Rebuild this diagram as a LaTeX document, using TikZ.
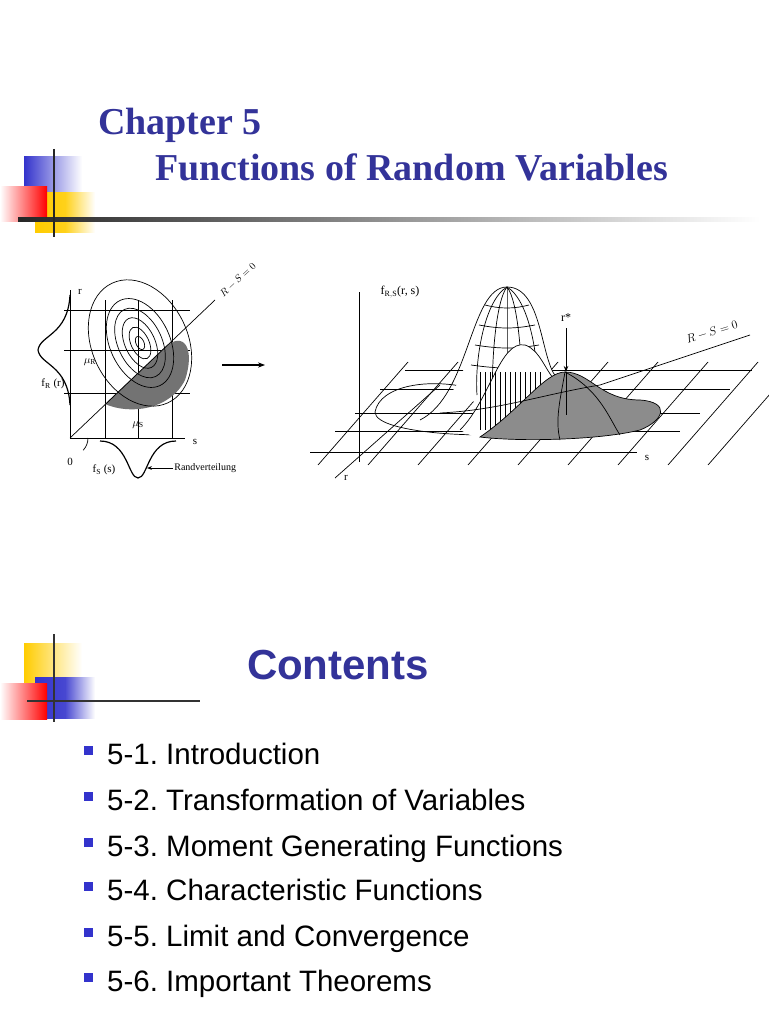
\documentclass[tikz,border=0pt]{standalone}
\usepackage{fontspec}
\setmainfont{Liberation Serif}
\setsansfont{Liberation Sans}
\usetikzlibrary{arrows.meta}
\definecolor{ttl}{HTML}{333399}
\definecolor{dblue}{HTML}{3333CC}
\definecolor{dyel}{HTML}{FFCC00}
\definecolor{dred}{HTML}{FF0000}
\frenchspacing
\begin{document}
\begin{tikzpicture}[x=1pt,y=-1pt,
  thin line/.style={line width=0.7pt},
  bul/.style={anchor=base west,font=\sffamily\fontsize{29.5}{29.5}\selectfont,text=black},
  lab/.style={font=\fontsize{11}{11}\selectfont,inner sep=1pt}]
\useasboundingbox (0,0) rectangle (768,1024);
\fill[white] (0,0) rectangle (768,1024);
% deco 1
\shade[left color=dblue,right color=white] (24,157) rectangle (82,193);
\shade[left color=dyel,right color=white,middle color=dyel!90] (35,193) rectangle (95,233);
\shade[right color=dred,left color=white] (0,187) rectangle (47,222);
\shade[left color=black!85,right color=white] (18,218) rectangle (760,222);
\draw[line width=2.5pt,black!85] (54,149) -- (54,237);
% deco 2
\shade[left color=dyel,right color=white] (24,643) rectangle (82,683);
\shade[left color=dblue,right color=white,middle color=dblue!90] (35,677) rectangle (95,718);
\shade[right color=dred,left color=white] (0,683) rectangle (47,719);
\draw[line width=1.5pt,black!80] (27,701) -- (200,701);
\draw[line width=1.5pt,black!80] (54,634) -- (54,722);
% titles
\node[anchor=base west,text=ttl,font=\bfseries\fontsize{38}{38}\selectfont,inner sep=0] (t1) at (98,135) {Chapter 5};
\node[anchor=base west,text=ttl,font=\bfseries\fontsize{38}{38}\selectfont,inner sep=0] (t2) at (155,181) {Functions of Random Variables};
\node[anchor=base,text=ttl,font=\sffamily\bfseries\fontsize{42}{42}\selectfont,inner sep=0] (c) at (338,679) {Contents};
% bullets
\foreach \y/\t [count=\i] in {764/5-1. Introduction,810/5-2. Transformation of Variables,856/5-3. Moment Generating Functions,900/5-4. Characteristic Functions,946/5-5. Limit and Convergence,991/5-6. Important Theorems}{
  \fill[dblue] (84,\y-18) rectangle (93,\y-9);
  \node[bul,inner sep=0] (b\i) at (107,\y) {\t};
}
% ---------- left diagram
\begin{scope}[thin line]
\coordinate (o) at (70,438);
\draw (70,290) -- (o) -- (185,438);
\node[lab] (ls) at (195,442) {s};
\node[lab] (lr) at (80,292) {r};
\node[lab] (l0) at (70,462) {0};
\foreach \x in {105,138,172} \draw (\x,300) -- (\x,438);
\foreach \y in {310,350,393} \draw (64,\y) -- (190,\y);
% shaded
\fill[black!55] (105,404) -- (165,347) .. controls (185,330) and (195,350) .. (185,380) .. controls (170,410) and (130,415) .. (105,404) -- cycle;
\foreach \a/\b in {48/66,30/47,22/37,15/27,9/17,4/7}
  \draw[rotate around={25:(140,343)}] (140,343) ellipse ({\a} and {\b});
\draw (o) -- (215,300);
\node[lab,rotate=43,font=\fontsize{10}{10}\selectfont] (rs) at (238,280) {$R-S=0$};
\draw (88,438) arc (0:43:18);
% marginal fR
\draw[line width=1.2pt] (70,295) .. controls (68,335) and (40,335) .. (38,350) .. controls (40,365) and (68,365) .. (70,405);
\node[lab] (fr) at (53,384) {f$_{\mathrm R}$ (r)};
\node[lab] (mr) at (90,362) {$\mu_{\mathrm R}$};
\node[lab] (ms) at (138,425) {$\mu_{\mathrm S}$};
% marginal fS
\draw[line width=1.2pt] (100,441) .. controls (128,441) and (128,478) .. (138,478) .. controls (148,478) and (148,441) .. (176,441);
\node[lab] (fs) at (104,470) {f$_{\mathrm S}$ (s)};
\node[lab,anchor=west,font=\fontsize{10}{10}\selectfont] (rv) at (173,468) {Randverteilung};
\draw[-{Stealth[length=5pt]}] (rv.west) -- (147,468);
\end{scope}
\draw[line width=1.3pt,-{Stealth[length=7pt]}] (222,365) -- (265,365);
% ---------- right diagram
\begin{scope}[thin line]
\coordinate (O) at (359,452);
\draw (359,292) -- (359,462);
\draw (310,452) -- (637,452);
\node[lab] (s2) at (647,458) {s};
\node[lab] (r2) at (346,478) {r};
\draw (335,478) -- (440,385);
\foreach \y/\a/\b in {370/405/752,389/380/730,413/355/700,431/335/680}
  \draw (\a,\y) -- (\b,\y);
\foreach \b in {318,368,418,468,518,568,618,668,708}
  \draw (\b,465) -- (\b+90,362);
\node[lab,font=\fontsize{12}{12}\selectfont] (f2) at (400,292) {f$_{\mathrm{R,S}}$(r, s)};
% base ellipse
\draw (375,412) .. controls (380,385) and (430,378) .. (470,388) .. controls (520,398) and (560,420) .. (540,430) .. controls (500,440) and (375,435) .. (375,412);
% bell
\fill[white] (440,400) .. controls (475,390) and (470,287) .. (507,287) .. controls (545,287) and (540,370) .. (560,380) -- (540,430) -- (470,400) -- cycle;
\draw (420,420) .. controls (470,395) and (470,287) .. (507,287) .. controls (545,287) and (540,370) .. (560,380);
\foreach \dx in {-25,-12,0,12,25}
  \draw (507,287) .. controls (507+\dx*0.9,300) and (507+\dx*1.3,360) .. (507+\dx*1.2,395);
\foreach \y/\w in {305/22,325/28,345/32,365/36}
  \draw (507-\w,\y) .. controls (500,\y+4) and (514,\y+4) .. (507+\w,\y);
% hatched slice
\fill[white] (460,430) .. controls (490,400) and (500,340) .. (525,345) .. controls (540,350) and (545,370) .. (555,380) -- (480,440) -- cycle;
\draw (460,430) .. controls (490,400) and (500,340) .. (525,345) .. controls (540,350) and (545,370) .. (555,380);
\foreach \x in {480,485,...,540} \draw (\x,372) -- (\x,430);
% shaded mound
\fill[black!45] (480,437) .. controls (520,410) and (545,372) .. (565,372) .. controls (590,372) and (600,400) .. (640,400) .. controls (670,402) and (665,420) .. (640,430) .. controls (600,440) and (520,442) .. (480,437) -- cycle;
\draw (480,437) .. controls (520,410) and (545,372) .. (565,372) .. controls (590,372) and (600,400) .. (640,400) .. controls (670,402) and (665,420) .. (640,430) .. controls (600,440) and (520,442) .. (480,437) -- cycle;
\draw (565,372) .. controls (560,400) and (555,420) .. (560,440);
\draw (565,372) .. controls (600,390) and (610,420) .. (620,435);
\draw (440,413) .. controls (500,410) and (540,395) .. (600,385) -- (750,335);
\node[lab,rotate=17,font=\fontsize{12}{12}\selectfont] (rs2) at (712,332) {$R-S=0$};
\node[lab,font=\fontsize{12}{12}\selectfont] (rst) at (566,318) {r*};
\draw[line width=1pt,-{Stealth[length=6pt]}] (566,328) -- (566,372);
\draw (566,372) -- (566,415);
\end{scope}
\end{tikzpicture}
\end{document}
